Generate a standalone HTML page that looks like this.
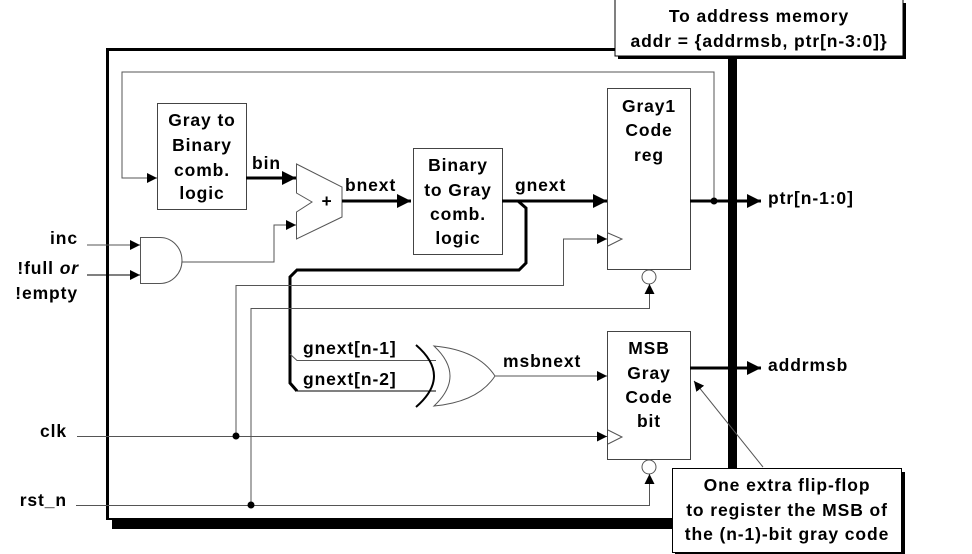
<!DOCTYPE html>
<html><head><style>
html,body{margin:0;padding:0;background:#fff;}
svg{display:block;}
text{font-family:"Liberation Sans",Arial,sans-serif;font-weight:bold;font-size:17.5px;letter-spacing:0.9px;fill:#000;}
</style></head><body>
<svg width="972" height="554" viewBox="0 0 972 554" xmlns="http://www.w3.org/2000/svg">
<defs>
<marker id="a" viewBox="0 0 10 10" refX="10" refY="5" markerWidth="10" markerHeight="10" markerUnits="userSpaceOnUse" orient="auto"><path d="M0,0 L10,5 L0,10 z" fill="#000"/></marker>
<marker id="b" viewBox="0 0 10 10" refX="10" refY="5" markerWidth="14" markerHeight="14" markerUnits="userSpaceOnUse" orient="auto"><path d="M0,0 L10,5 L0,10 z" fill="#000"/></marker>
</defs>
<!-- frame -->
<line x1="107" y1="49.5" x2="616" y2="49.5" stroke="#000" stroke-width="3"/>
<line x1="107.5" y1="48" x2="107.5" y2="520" stroke="#000" stroke-width="3"/>
<line x1="107" y1="519" x2="730" y2="519" stroke="#000" stroke-width="2"/>
<rect x="112" y="518" width="565" height="11" fill="#000"/>
<rect x="728" y="56" width="9" height="470" fill="#000"/>
<!-- address box -->
<rect x="618" y="3" width="288" height="56" fill="#000"/>
<rect x="615" y="-1" width="288" height="57" fill="#fff" stroke="#000" stroke-width="1"/>
<text x="759" y="22" text-anchor="middle">To address memory</text>
<text x="759" y="47" text-anchor="middle">addr = {addrmsb, ptr[n-3:0]}</text>
<!-- feedback loop -->
<path d="M714,201 V72 H122 V178 H157" fill="none" stroke="#555" stroke-width="1" marker-end="url(#a)"/>
<!-- Gray to Binary -->
<rect x="157.5" y="103.5" width="89" height="106" fill="#fff" stroke="#444"/>
<text x="202" y="126" text-anchor="middle">Gray to</text>
<text x="202" y="151" text-anchor="middle">Binary</text>
<text x="202" y="176" text-anchor="middle">comb.</text>
<text x="202" y="199" text-anchor="middle">logic</text>
<line x1="246" y1="178" x2="296" y2="178" stroke="#000" stroke-width="3" marker-end="url(#b)"/>
<text x="252" y="169">bin</text>
<!-- adder -->
<path d="M296.5,164 L342,187 L342,217 L296.5,239 L296.5,212 L312,202 L296.5,193 Z" fill="#fff" stroke="#555"/>
<text x="327" y="207" text-anchor="middle">+</text>
<line x1="342" y1="201" x2="411" y2="201" stroke="#000" stroke-width="3" marker-end="url(#b)"/>
<text x="345" y="191">bnext</text>
<!-- AND -->
<path d="M140.5,237.5 H160 A22,23 0 0 1 160,283.5 H140.5 Z" fill="#fff" stroke="#555"/>
<path d="M182,262 H274 V225 H296" fill="none" stroke="#555" marker-end="url(#a)"/>
<line x1="87" y1="245" x2="140" y2="245" stroke="#555" marker-end="url(#a)"/>
<line x1="87" y1="275" x2="140" y2="275" stroke="#000" marker-end="url(#a)"/>
<text x="78" y="244" text-anchor="end">inc</text>
<text x="79" y="274" text-anchor="end">!full <tspan font-style="italic">or</tspan></text>
<text x="78" y="299" text-anchor="end">!empty</text>
<!-- Binary to Gray -->
<rect x="413.5" y="148.5" width="89" height="106" fill="#fff" stroke="#444"/>
<text x="458" y="171" text-anchor="middle">Binary</text>
<text x="458" y="196" text-anchor="middle">to Gray</text>
<text x="458" y="220" text-anchor="middle">comb.</text>
<text x="458" y="244" text-anchor="middle">logic</text>
<line x1="502" y1="201" x2="607" y2="201" stroke="#000" stroke-width="3" marker-end="url(#b)"/>
<text x="515" y="191">gnext</text>
<!-- bus -->
<path d="M518,201 L526,208 V263 L519,270 H297 L290,277 V383 L297,391" fill="none" stroke="#000" stroke-width="3"/>
<path d="M290,354 L297,360.5 H436" fill="none" stroke="#555"/>
<line x1="297" y1="391" x2="436" y2="391" stroke="#000"/>
<text x="303" y="354">gnext[n-1]</text>
<text x="303" y="385">gnext[n-2]</text>
<!-- XOR -->
<path d="M416,345 Q452,376 416,407" fill="none" stroke="#000" stroke-width="2"/>
<path d="M434,346 Q478,350 495,376 Q478,402 434,406 Q466,376 434,346 Z" fill="#fff" stroke="#555"/>
<line x1="495" y1="376" x2="607" y2="376" stroke="#555" marker-end="url(#a)"/>
<text x="503" y="367">msbnext</text>
<!-- Gray1 reg -->
<rect x="607.5" y="88.5" width="83" height="181" fill="#fff" stroke="#444"/>
<text x="649" y="112" text-anchor="middle">Gray1</text>
<text x="649" y="136" text-anchor="middle">Code</text>
<text x="649" y="161" text-anchor="middle">reg</text>
<path d="M608,233 L622,239 L608,246" fill="none" stroke="#555"/>
<circle cx="649" cy="277" r="7" fill="#fff" stroke="#555"/>
<line x1="690" y1="201" x2="761" y2="201" stroke="#000" stroke-width="3" marker-end="url(#b)"/>
<circle cx="714" cy="201" r="3.5" fill="#000"/>
<text x="768" y="204">ptr[n-1:0]</text>
<!-- MSB reg -->
<rect x="607.5" y="331.5" width="83" height="128" fill="#fff" stroke="#444"/>
<text x="649" y="354" text-anchor="middle">MSB</text>
<text x="649" y="379" text-anchor="middle">Gray</text>
<text x="649" y="403" text-anchor="middle">Code</text>
<text x="649" y="427" text-anchor="middle">bit</text>
<path d="M608,430 L622,437 L608,444" fill="none" stroke="#555"/>
<circle cx="649" cy="467" r="7" fill="#fff" stroke="#555"/>
<line x1="690" y1="368" x2="761" y2="368" stroke="#000" stroke-width="3" marker-end="url(#b)"/>
<text x="768" y="371">addrmsb</text>
<!-- clk -->
<line x1="77" y1="436.5" x2="607" y2="436.5" stroke="#555" marker-end="url(#a)"/>
<path d="M236,436 V285.5 H563.5 V239 H607" fill="none" stroke="#555" marker-end="url(#a)"/>
<circle cx="236" cy="436" r="3.5" fill="#000"/>
<text x="67" y="437" text-anchor="end">clk</text>
<!-- rst -->
<path d="M76,505.5 H649.5 V474" fill="none" stroke="#555" marker-end="url(#a)"/>
<path d="M251,505 V308.5 H649.5 V284" fill="none" stroke="#555" marker-end="url(#a)"/>
<circle cx="251" cy="505" r="3.5" fill="#000"/>
<text x="67" y="506" text-anchor="end">rst_n</text>
<!-- callout -->
<line x1="763" y1="467" x2="694" y2="381" stroke="#555" marker-end="url(#a)"/>
<rect x="675" y="472" width="230" height="83" fill="#000"/>
<rect x="672.5" y="468.5" width="229" height="84" fill="#fff" stroke="#000"/>
<text x="787" y="491" text-anchor="middle">One extra flip-flop</text>
<text x="787" y="516" text-anchor="middle">to register the MSB of</text>
<text x="787" y="540" text-anchor="middle">the (n-1)-bit gray code</text>
</svg>
</body></html>
